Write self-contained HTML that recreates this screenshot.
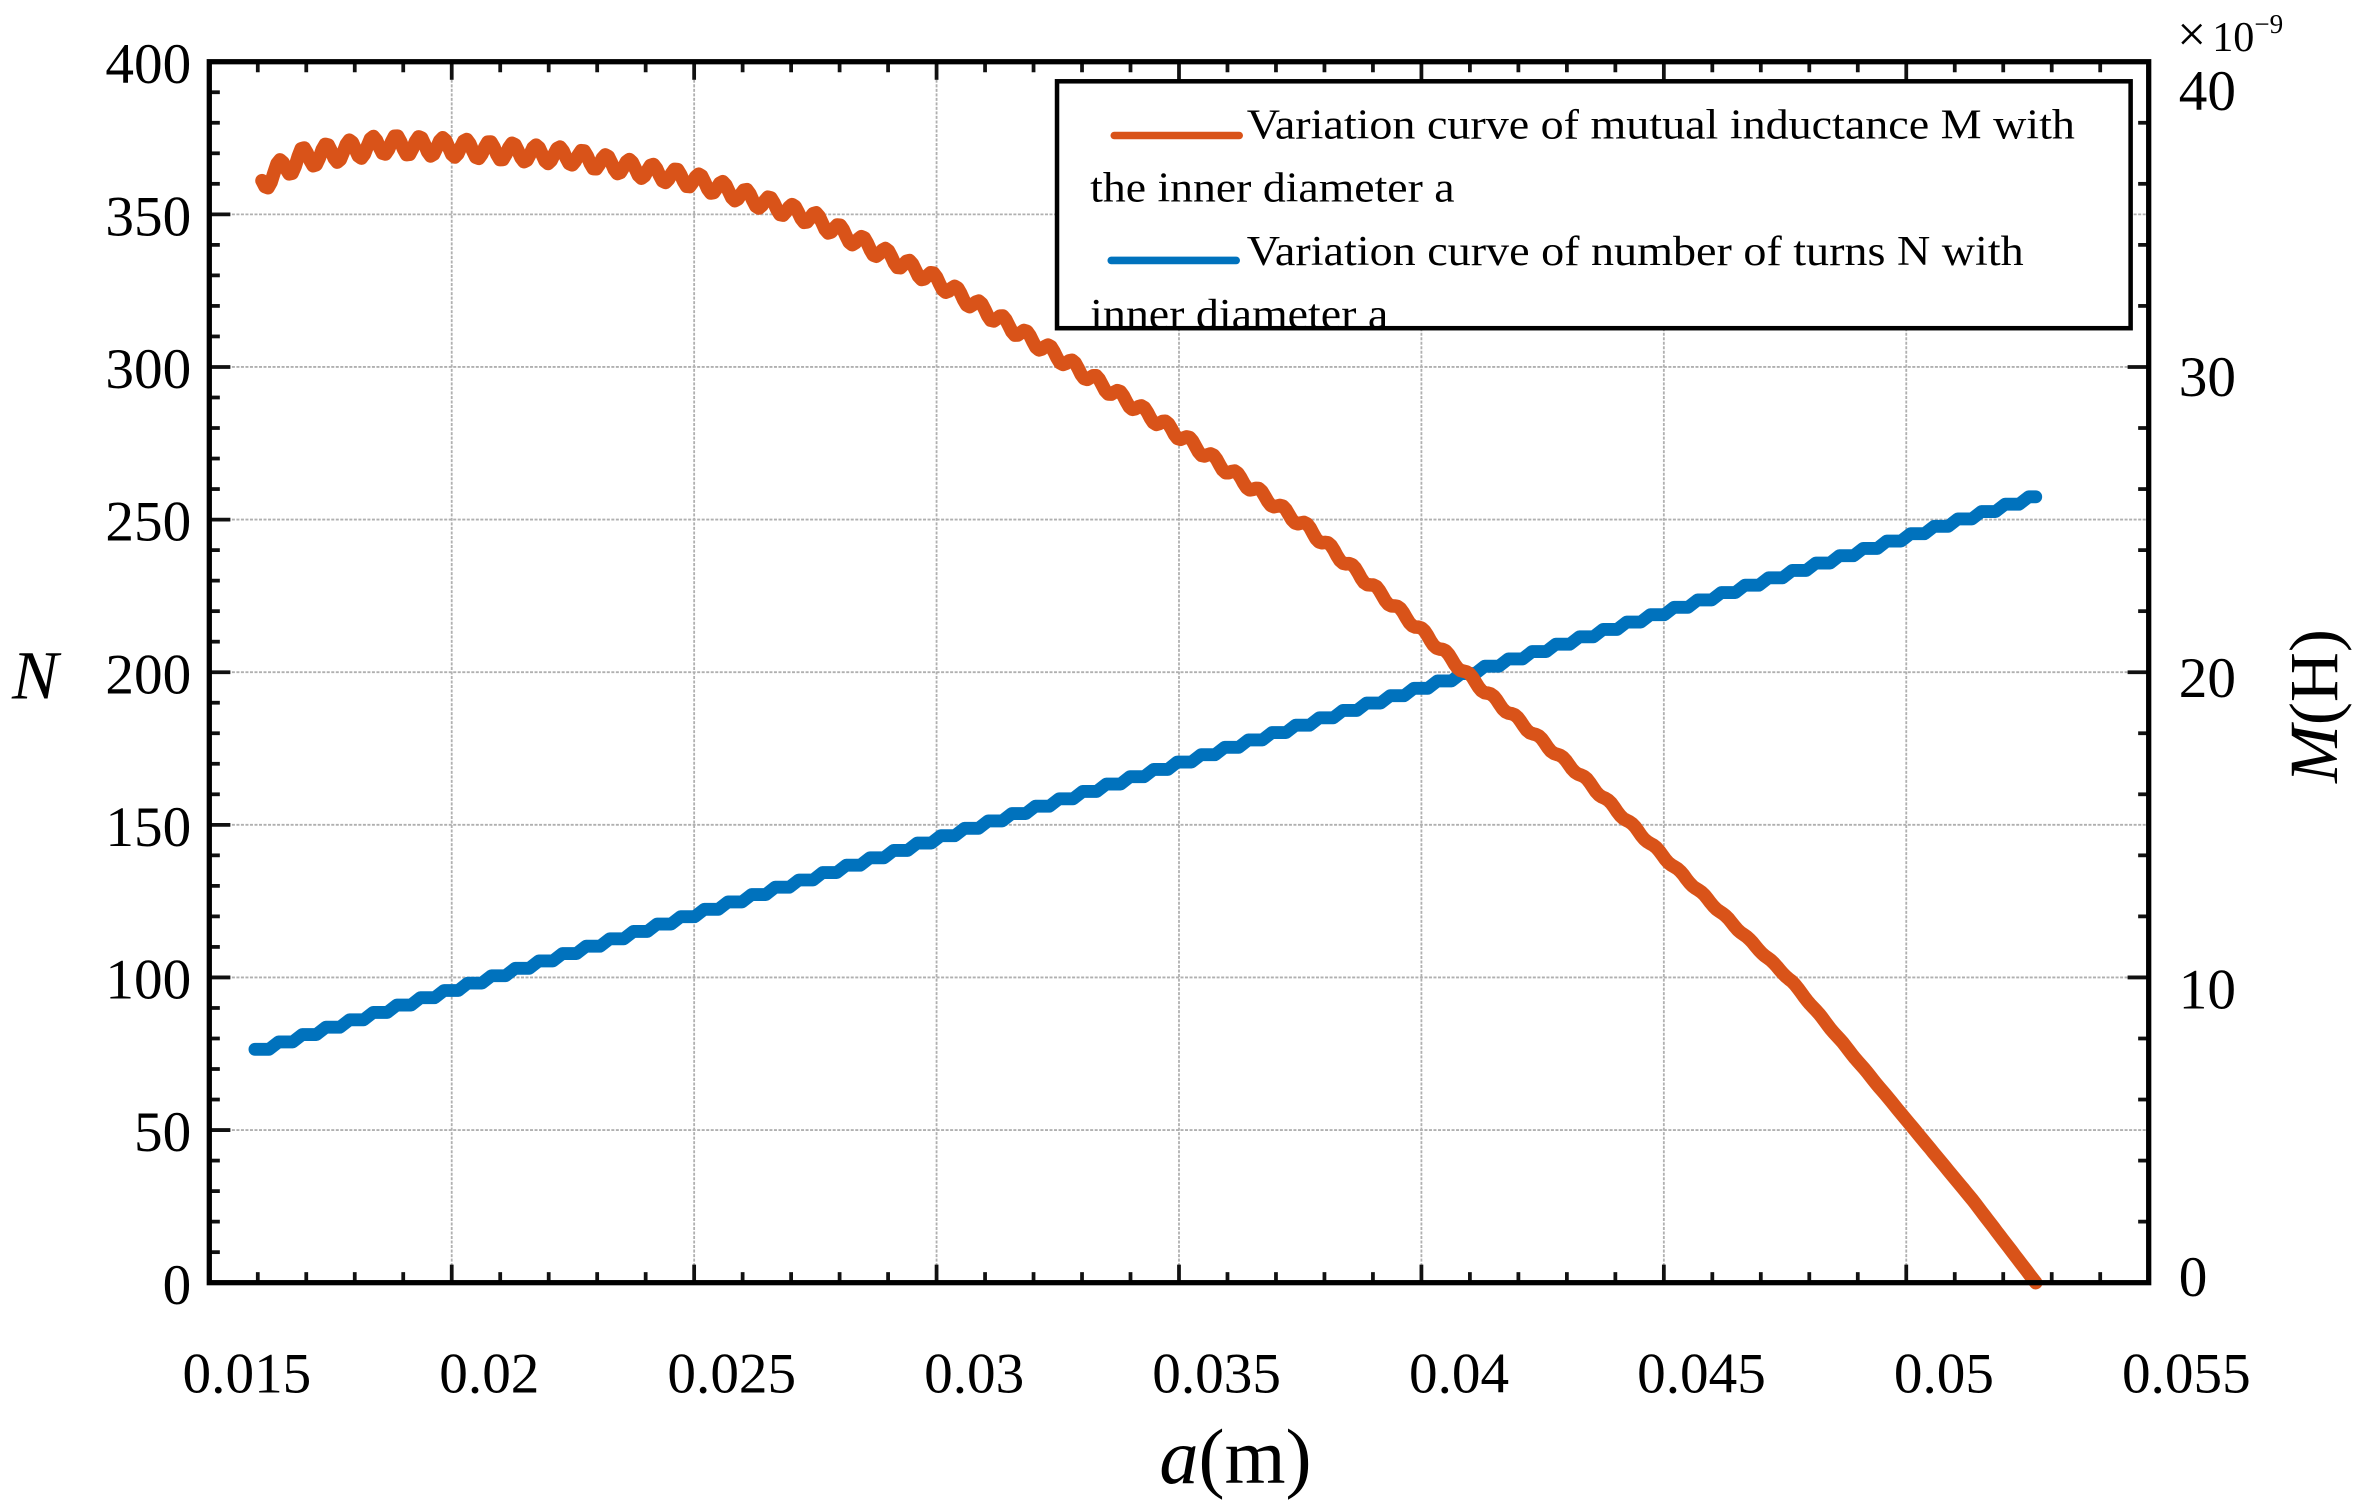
<!DOCTYPE html>
<html><head><meta charset="utf-8"><style>
html,body{margin:0;padding:0;background:#fff;}
svg{display:block;}
text{font-family:"Liberation Serif",serif;fill:#000;}
</style></head><body>
<svg id="s" width="2361" height="1507" viewBox="0 0 1568 1001" preserveAspectRatio="none" xmlns="http://www.w3.org/2000/svg">
<g id="grid" stroke="#b0b0b0" stroke-width="1.2" stroke-dasharray="2,1"></g>
<g id="ticks" stroke="#111" stroke-width="2.5"></g>
<path id="blue" fill="none" stroke="#0072bd" stroke-width="8.5" stroke-linejoin="round" stroke-linecap="round"/>
<path id="orange" fill="none" stroke="#d95319" stroke-width="9" stroke-linejoin="round" stroke-linecap="round"/>
<rect x="139" y="41" width="1288" height="811" fill="none" stroke="#000" stroke-width="3.5"/>
<g id="labels" font-size="38"></g>
<text x="8" y="464" font-size="46" font-style="italic">N</text>
<text x="770" y="985" font-size="52"><tspan font-style="italic">a</tspan>(m)</text>
<text transform="translate(1552,520) rotate(-90)" font-size="46"><tspan font-style="italic">M</tspan>(H)</text>
<text x="1446" y="34" font-size="34">×<tspan font-size="28" dx="4">10</tspan><tspan font-size="18" dy="-12">−9</tspan></text>
<rect x="702" y="54" width="713" height="164" fill="#fff" stroke="#000" stroke-width="3"/>
<line x1="740" y1="90" x2="823" y2="90" stroke="#d95319" stroke-width="5" stroke-linecap="round"/>
<line x1="738" y1="173" x2="821" y2="173" stroke="#0072bd" stroke-width="5" stroke-linecap="round"/>
<g font-size="28">
<text x="828" y="92" textLength="550" lengthAdjust="spacingAndGlyphs">Variation curve of mutual inductance M with</text>
<text x="724" y="134" textLength="242" lengthAdjust="spacingAndGlyphs">the inner diameter a</text>
<text x="828" y="176" textLength="516" lengthAdjust="spacingAndGlyphs">Variation curve of number of turns N with</text>
<text x="724" y="218" textLength="198" lengthAdjust="spacingAndGlyphs">inner diameter a</text>
</g>
</svg>
<script>
var ns="http://www.w3.org/2000/svg";
function el(p,t,a,txt){var e=document.createElementNS(ns,t);for(var k in a)e.setAttribute(k,a[k]);if(txt!=null)e.textContent=txt;document.getElementById(p).appendChild(e);}
var L=139,R=1427,T=41,B=852;
function X(v){return L+(v-0.015)/0.04*(R-L);}
function YN(v){return B-v/400*(B-T);}
for(var i=1;i<8;i++){var x=X(0.015+i*0.005);el("grid","line",{x1:x,y1:T,x2:x,y2:B});}
for(var i=1;i<8;i++){var y=YN(i*50);el("grid","line",{x1:L,y1:y,x2:R,y2:y});}
for(var i=0;i<=40;i++){var x=X(0.015+i*0.001);var len=(i%5==0)?12:7;
 el("ticks","line",{x1:x,y1:B,x2:x,y2:B-len});el("ticks","line",{x1:x,y1:T,x2:x,y2:T+len});}
for(var i=0;i<=40;i++){var y=YN(i*10);var len=(i%5==0)?14:7;el("ticks","line",{x1:L,y1:y,x2:L+len,y2:y});}
for(var i=0;i<=20;i++){var y=B-i/20*(B-T);var len=(i%5==0)?14:7;el("ticks","line",{x1:R,y1:y,x2:R-len,y2:y});}
var xl=["0.015","0.02","0.025","0.03","0.035","0.04","0.045","0.05","0.055"];
for(var i=0;i<9;i++)el("labels","text",{x:X(0.015+i*0.005)+25,y:925,"text-anchor":"middle"},xl[i]);
for(var i=0;i<=8;i++)el("labels","text",{x:127,y:YN(i*50)+14,"text-anchor":"end"},String(i*50));
var rl=[[0,861],[10,670],[20,463],[30,263],[40,73]];
for(var i=0;i<rl.length;i++)el("labels","text",{x:1447,y:rl[i][1]},String(rl[i][0]));
var d="";var x0=174,x1=1352,y0=697,y1=330;var n=75;var st=(x1-x0)/n;
for(var i=0;i<=n;i++){var t=i/n;var x=x0+(x1-x0)*t-st*0.3,y=y0+(y1-y0)*t;
 d+=(i==0?"M":"L")+x.toFixed(1)+","+y.toFixed(1)+" L"+Math.min(x+st*0.6,x1).toFixed(1)+","+y.toFixed(1)+" ";}
document.getElementById("blue").setAttribute("d",d);
var cp=[[174,120],[200,105],[255,96],[300,98],[380,104],[462,120],[540,145],[623,187],[700,235],[785,290],[870,352],[945,420],[985,458],[1050,515],[1106,570],[1190,652],[1267,745],[1310,797],[1352,852]];
function interp(x){for(var i=0;i<cp.length-1;i++){if(x<=cp[i+1][0]){var a=cp[i],b=cp[i+1];var t=(x-a[0])/(b[0]-a[0]);return a[1]+(b[1]-a[1])*t;}}return cp[cp.length-1][1];}
var od="";for(var x=174;x<=1352;x+=2){var amp=Math.max(0,7*(1-(x-174)/1100));var y=interp(x)+amp*Math.sin((x-174)/15.5*2*Math.PI);
 od+=(x==174?"M":"L")+x+","+y.toFixed(1)+" ";}
document.getElementById("orange").setAttribute("d",od);
</script>
</body></html>
